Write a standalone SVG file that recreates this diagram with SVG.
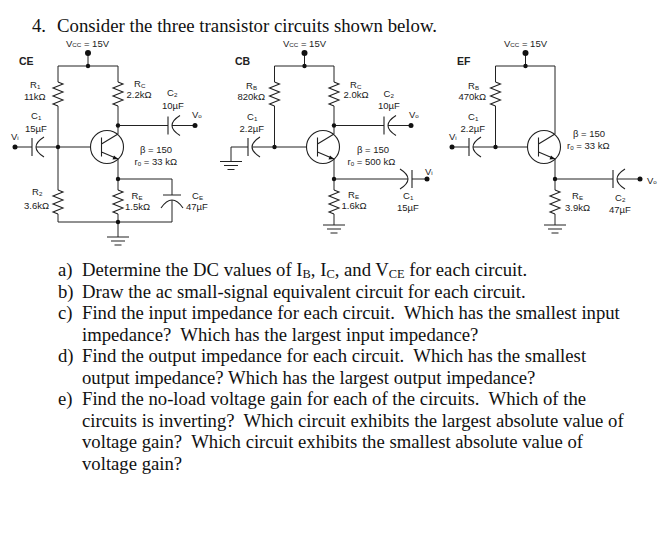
<svg xmlns="http://www.w3.org/2000/svg" width="666" height="541" viewBox="0 0 666 541">
<style>
.w{fill:none;stroke:#222;stroke-width:1}
.s{fill:none;stroke:#222;stroke-width:1.1}
.d{fill:#111;stroke:none}
.l{font-family:"Liberation Sans",Arial,sans-serif;font-size:9.5px;fill:#222}
.sub{font-size:6.2px}
.b{font-family:"Liberation Sans",Arial,sans-serif;font-size:10.5px;font-weight:bold;fill:#222}
.t{font-family:"Liberation Serif","Times New Roman",serif;font-size:18.7px;fill:#111;white-space:pre}
.tsub{font-size:12.4px}
</style>
<defs>
<path id="res" class="s" d="M0 0L5 2L-5 6L5 10L-5 14L5 18L-5 22L0 24"/>
<g id="capH"><path class="s" d="M0 -9V9M12 -10Q-4 0 12 10"/></g>
<g id="capV"><path class="s" d="M-9 0H9M-11 13Q0 -3 11 13"/></g>
<g id="gnd"><path class="s" d="M-11 0H11M-7 4H7M-3.500 8H3.500"/></g>
<g id="q">
<circle class="s" r="16.500"/>
<path class="s" d="M-5.500 -9.500V9.500M-5.500 -3L11 -13M-5.500 5L11 12"/>
<path class="d" d="M11 12L5.500 12.500L7 8.500Z"/>
</g>
</defs>

<g id="heading"><text class="t" x="32" y="32">4.</text><text class="t" x="57" y="32" textLength="380" lengthAdjust="spacingAndGlyphs">Consider the three transistor circuits shown below.</text></g>

<g id="connectors">
<path class="w" d="M88 53V66M58 82V66H118V82M58 106V190M58 214V222H172V200M118 106V134M118 125.500H168M172 125.500H195M15 147H32M36 147H91M118 159V190M118 214V237M118 179H172V195"/>
<path class="w" d="M304.500 53V66M274.500 82V66H334V82M274.500 106V147H306M334 106V134M334 125.500H384M388 125.500H411M334 159V190M334 179H408M412 179H427M334 214V225M248 147H231V161M252 147H274.500"/>
<path class="w" d="M525.500 53V66M495.500 82V66H555V134M495.500 106V147H527M452 147H469M473 147H495.500M555 159V190M555 179H613M617 179H640M555 214V225"/>
</g>

<g id="ce">
<use href="#res" x="58" y="82"/><use href="#res" x="118" y="82"/><use href="#res" x="58" y="190"/><use href="#res" x="118" y="190"/>
<use href="#capH" transform="translate(32 147)"/><use href="#capH" transform="translate(168 125.500)"/><use href="#capV" transform="translate(172 195)"/>
<use href="#q" x="107" y="147"/><use href="#gnd" x="118" y="237"/>
<g class="d"><circle cx="88" cy="53" r="3"/><circle cx="88" cy="66" r="2.200"/><circle cx="118" cy="125.500" r="2.200"/><circle cx="195" cy="125.500" r="2.500"/><circle cx="15" cy="147" r="2.500"/><circle cx="58" cy="147" r="2.200"/><circle cx="118" cy="179" r="2.200"/><circle cx="118" cy="222" r="2.200"/></g>
<text class="b" x="19" y="65">CE</text>
<text class="l" x="66" y="47">V<tspan class="sub">CC</tspan> = 15V</text>
<text class="l" x="30" y="88">R<tspan class="sub" dy="1">1</tspan></text><text class="l" x="24" y="100">11kΩ</text>
<text class="l" x="134" y="87">R<tspan class="sub" dy="1">C</tspan></text><text class="l" x="126.500" y="98">2.2kΩ</text>
<text class="l" x="167" y="96">C<tspan class="sub" dy="1">2</tspan></text><text class="l" x="162" y="109">10µF</text>
<text class="l" x="192" y="118">V<tspan class="sub">o</tspan></text>
<text class="l" x="31" y="119">C<tspan class="sub" dy="1">1</tspan></text><text class="l" x="25" y="132">15µF</text>
<text class="l" x="11" y="140">V<tspan class="sub">i</tspan></text>
<text class="l" x="140" y="153">β = 150</text><text class="l" x="134.500" y="165">r<tspan class="sub" dy="1">0</tspan><tspan dy="-1"> = 33 kΩ</tspan></text>
<text class="l" x="32" y="195">R<tspan class="sub" dy="1">2</tspan></text><text class="l" x="24" y="209">3.6kΩ</text>
<text class="l" x="131.500" y="199">R<tspan class="sub" dy="1">E</tspan></text><text class="l" x="125" y="210">1.5kΩ</text>
<text class="l" x="192" y="199">C<tspan class="sub" dy="1">E</tspan></text><text class="l" x="186" y="210">47µF</text>
</g>

<g id="cb">
<use href="#res" x="274.500" y="82"/><use href="#res" x="334" y="82"/><use href="#res" x="334" y="190"/>
<use href="#capH" transform="translate(248 147)"/><use href="#capH" transform="translate(384 125.500)"/><use href="#capH" transform="translate(412 179) scale(-1 1)"/>
<use href="#q" x="323" y="147"/><use href="#gnd" x="334" y="225"/><use href="#gnd" x="231" y="161.500"/>
<g class="d"><circle cx="304.500" cy="53" r="3"/><circle cx="304.500" cy="66" r="2.200"/><circle cx="334" cy="125.500" r="2.200"/><circle cx="411" cy="125.500" r="2.500"/><circle cx="274.500" cy="147" r="2.200"/><circle cx="334" cy="179" r="2.200"/><circle cx="427" cy="179" r="2.500"/></g>
<text class="b" x="235" y="65">CB</text>
<text class="l" x="283" y="47">V<tspan class="sub">CC</tspan> = 15V</text>
<text class="l" x="246" y="89">R<tspan class="sub" dy="1">B</tspan></text><text class="l" x="237.500" y="100">820kΩ</text>
<text class="l" x="350" y="88">R<tspan class="sub" dy="1">C</tspan></text><text class="l" x="343.500" y="98">2.0kΩ</text>
<text class="l" x="383.500" y="97">C<tspan class="sub" dy="1">2</tspan></text><text class="l" x="378" y="109">10µF</text>
<text class="l" x="409" y="118">V<tspan class="sub">o</tspan></text>
<text class="l" x="247" y="120">C<tspan class="sub" dy="1">1</tspan></text><text class="l" x="239.500" y="132">2.2µF</text>
<text class="l" x="357" y="153">β = 150</text><text class="l" x="347.500" y="165">r<tspan class="sub" dy="1">0</tspan><tspan dy="-1"> = 500 kΩ</tspan></text>
<text class="l" x="425" y="175">V<tspan class="sub">i</tspan></text>
<text class="l" x="348" y="198">R<tspan class="sub" dy="1">E</tspan></text><text class="l" x="341.500" y="209">1.6kΩ</text>
<text class="l" x="403" y="199">C<tspan class="sub" dy="1">1</tspan></text><text class="l" x="397" y="211">15µF</text>
</g>

<g id="ef">
<use href="#res" x="495.500" y="82"/><use href="#res" x="555" y="190"/>
<use href="#capH" transform="translate(469 147)"/><use href="#capH" transform="translate(613 179)"/>
<use href="#q" x="544" y="147"/><use href="#gnd" x="555" y="225"/>
<g class="d"><circle cx="525.500" cy="53" r="3"/><circle cx="525.500" cy="66" r="2.200"/><circle cx="452" cy="147" r="2.500"/><circle cx="495.500" cy="147" r="2.200"/><circle cx="555" cy="179" r="2.200"/><circle cx="640" cy="179" r="2.500"/></g>
<text class="b" x="457" y="65">EF</text>
<text class="l" x="504" y="47">V<tspan class="sub">CC</tspan> = 15V</text>
<text class="l" x="468" y="89">R<tspan class="sub" dy="1">B</tspan></text><text class="l" x="458.500" y="100">470kΩ</text>
<text class="l" x="468" y="120">C<tspan class="sub" dy="1">1</tspan></text><text class="l" x="460.500" y="132">2.2µF</text>
<text class="l" x="449" y="140">V<tspan class="sub">i</tspan></text>
<text class="l" x="573" y="137">β = 150</text><text class="l" x="567" y="149">r<tspan class="sub" dy="1">0</tspan><tspan dy="-1"> = 33 kΩ</tspan></text>
<text class="l" x="647" y="184">V<tspan class="sub">o</tspan></text>
<text class="l" x="572" y="199">R<tspan class="sub" dy="1">E</tspan></text><text class="l" x="565" y="211">3.9kΩ</text>
<text class="l" x="615" y="201">C<tspan class="sub" dy="1">2</tspan></text><text class="l" x="609" y="213">47µF</text>
</g>

<g id="questions">
<text class="t" x="58" y="276">a)</text><text class="t" x="82" y="276">Determine the DC values of I<tspan class="tsub" dy="2">B</tspan><tspan dy="-2">, I</tspan><tspan class="tsub" dy="2">C</tspan><tspan dy="-2">, and V</tspan><tspan class="tsub" dy="2">CE</tspan><tspan dy="-2"> for each circuit.</tspan></text>
<text class="t" x="58" y="297.500">b)</text><text class="t" x="82" y="297.500">Draw the ac small-signal equivalent circuit for each circuit.</text>
<text class="t" x="58" y="319">c)</text><text class="t" x="82" y="319">Find the input impedance for each circuit.  Which has the smallest input</text>
<text class="t" x="82" y="340.500">impedance?  Which has the largest input impedance?</text>
<text class="t" x="58" y="362">d)</text><text class="t" x="82" y="362">Find the output impedance for each circuit.  Which has the smallest</text>
<text class="t" x="82" y="383.500">output impedance? Which has the largest output impedance?</text>
<text class="t" x="58" y="405">e)</text><text class="t" x="82" y="405">Find the no-load voltage gain for each of the circuits.  Which of the</text>
<text class="t" x="82" y="426.500">circuits is inverting?  Which circuit exhibits the largest absolute value of</text>
<text class="t" x="82" y="448">voltage gain?  Which circuit exhibits the smallest absolute value of</text>
<text class="t" x="82" y="469.500">voltage gain?</text>
</g>
</svg>
